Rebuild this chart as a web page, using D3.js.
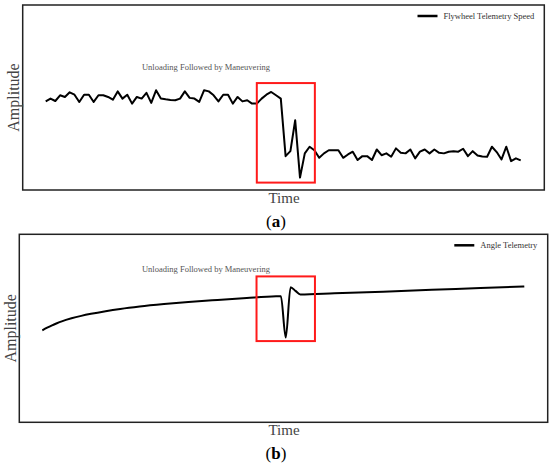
<!DOCTYPE html>
<html>
<head>
<meta charset="utf-8">
<script src="https://cdn.jsdelivr.net/npm/d3@7"></script>
<style>
    html, body { margin: 0; padding: 0; background: #fff; }
    svg { display: block; }
    text { font-family: "Liberation Serif", "Times New Roman", serif; }
</style>
</head>
<body>
<div id="chart"></div>
<script>
// (a) flywheel telemetry speed, one sample per time step
var speedTime = d3.range(100);
var speedValues = [
    47.9, 49.4, 48.1, 51.2, 50.3, 52.8, 51.5, 47.6, 51.5, 51.5,
    47.6, 51.2, 51.2, 50.3, 48.8, 53.3, 49.4, 51.5, 46.7, 50.3,
    49.4, 52.5, 47.1, 53.9, 49.4, 49.0, 48.7, 48.5, 49.4, 53.3,
    49.8, 49.4, 47.6, 53.9, 53.3, 51.2, 47.9, 51.5, 51.5, 46.7,
    50.3, 47.9, 48.5, 46.7, 46.7, 49.4, 51.5, 53.0, 51.2, 49.4,
    18.3, 21.0, 37.7, 6.7, 19.8, 23.4, 21.5, 17.4, 19.8, 21.5,
    21.5, 21.5, 17.4, 19.2, 20.7, 16.2, 18.3, 18.3, 16.2, 21.9,
    18.8, 19.8, 18.0, 22.5, 20.1, 19.8, 21.9, 17.1, 20.7, 21.9,
    19.8, 21.9, 20.1, 19.8, 20.7, 21.0, 20.7, 22.3, 18.3, 21.0,
    18.7, 18.1, 18.0, 23.4, 20.5, 16.5, 23.4, 15.6, 17.1, 16.0
];

// (b) angle telemetry
var angleTime = [0, 1, 2, 3, 4, 6, 8, 10, 13, 16, 20, 25, 30, 36, 42, 48, 49, 50, 51, 52, 53, 60, 70, 80, 90, 99];
var angleValues = [48.9, 50.3, 51.6, 52.7, 53.7, 55.3, 56.6, 57.7, 59.1, 60.3, 61.6, 62.9, 64.0, 65.1, 66.1, 67.0, 67.1,
    45.1, 71.9, 69.9, 68.0, 68.6, 69.5, 70.5, 71.4, 72.3];

// highlighted event window [t0, t1, v0, v1]
var eventBoxA = [44, 56.1, 4.0, 57.8];
var eventBoxB = [44, 56, 43.2, 77.6];

var annotation = "Unloading Followed by Maneuvering";
var legendA = "Flywheel Telemetry Speed";
var legendB = "Angle Telemetry";

var width = 550, height = 467;
var svg = d3.select("#chart").append("svg")
    .attr("width", width)
    .attr("height", height);

function drawPanel(p) {
    var g = svg.append("g");

    var x = d3.scaleLinear().domain([0, 99]).range([p.lineLeft, p.lineRight]);
    var y = d3.scaleLinear().domain([0, 100]).range([p.bottom, p.top]);

    // annotation above the event
    g.append("text")
        .attr("x", 206)
        .attr("y", p.annotY)
        .attr("text-anchor", "middle")
        .style("font-size", "8.5px")
        .style("fill", "#555")
        .text(annotation);

    var line = d3.line()
        .curve(p.curve)
        .x(function (d) { return x(d[0]); })
        .y(function (d) { return y(d[1]); });

    g.append("path")
        .datum(d3.zip(p.time, p.values))
        .attr("d", line)
        .attr("fill", "none")
        .attr("stroke", "#000")
        .attr("stroke-width", 2)
        .attr("stroke-linejoin", "round");

    // red box around the event
    g.append("rect")
        .attr("x", x(p.box[0]))
        .attr("y", y(p.box[3]))
        .attr("width", x(p.box[1]) - x(p.box[0]))
        .attr("height", y(p.box[2]) - y(p.box[3]))
        .attr("fill", "none")
        .attr("stroke", "#ff1a1a")
        .attr("stroke-width", 2);

    // frame
    g.append("rect")
        .attr("x", p.left)
        .attr("y", p.top)
        .attr("width", p.right - p.left)
        .attr("height", p.bottom - p.top)
        .attr("fill", "none")
        .attr("stroke", "#222")
        .attr("stroke-width", 1.5);

    // legend
    g.append("line")
        .attr("x1", p.legX).attr("x2", p.legX + 20)
        .attr("y1", p.top + 11).attr("y2", p.top + 11)
        .attr("stroke", "#000")
        .attr("stroke-width", 2.5);
    g.append("text")
        .attr("x", p.legX + 26)
        .attr("y", p.top + 14)
        .style("font-size", "8.5px")
        .style("fill", "#333")
        .text(p.legend);

    // axis labels
    g.append("text")
        .attr("transform", "translate(" + p.yLabX + "," + ((p.top + p.bottom) / 2) + ") rotate(-90)")
        .attr("text-anchor", "middle")
        .style("font-size", "16px")
        .style("fill", "#444")
        .text("Amplitude");

    g.append("text")
        .attr("x", 284)
        .attr("y", p.bottom + 13)
        .attr("text-anchor", "middle")
        .style("font-size", "15px")
        .style("fill", "#444")
        .text("Time");

    var cap = g.append("text")
        .attr("x", 276)
        .attr("y", p.bottom + 37)
        .attr("text-anchor", "middle")
        .style("font-size", "17px")
        .style("fill", "#000");
    cap.append("tspan").text("(");
    cap.append("tspan").style("font-weight", "bold").text(p.tag);
    cap.append("tspan").text(")");
}

drawPanel({
    time: speedTime, values: speedValues, box: eventBoxA, legend: legendA, tag: "a",
    curve: d3.curveLinear,
    left: 22.7, right: 544.3, top: 5, bottom: 190,
    lineLeft: 45.7, lineRight: 520.7,
    annotY: 70, legX: 417.5, yLabX: 18.5
});

drawPanel({
    time: angleTime, values: angleValues, box: eventBoxB, legend: legendB, tag: "b",
    curve: d3.curveMonotoneX,
    left: 19.3, right: 547.7, top: 234.3, bottom: 422.3,
    lineLeft: 42.3, lineRight: 524.3,
    annotY: 272, legX: 454.3, yLabX: 16
});
</script>
</body>
</html>
